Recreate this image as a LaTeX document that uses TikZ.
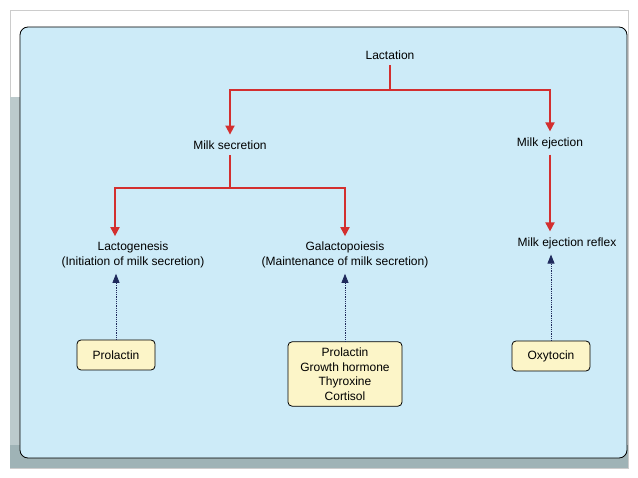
\documentclass[tikz,border=0pt]{standalone}
\usepackage{fontspec}
\setmainfont{Liberation Sans}
\usetikzlibrary{arrows.meta,positioning}
\definecolor{panelblue}{HTML}{CDEBF8}
\definecolor{boxyellow}{HTML}{FCF5C8}
\definecolor{linered}{HTML}{D32F2F}
\definecolor{dashnavy}{HTML}{1F2A5C}
\definecolor{slidegray}{HTML}{9FB3B6}
\tikzset{x=1pt, y=-1pt, font=\fontsize{12}{14.5}\selectfont}
\tikzstyle{term} = [align=center, inner sep=1pt, outer sep=5pt]
\tikzstyle{hormone} = [draw, thick, fill=boxyellow, rounded corners=4pt, align=center, inner sep=6pt, minimum height=30pt]
\tikzstyle{flow} = [linered, line width=1.8pt, -{Triangle[length=9pt,width=9pt]}]
\tikzstyle{acts} = [dashnavy, densely dotted, thick, -{Triangle[length=9pt,width=7pt]}]

\begin{document}
\begin{tikzpicture}
	\useasboundingbox (0,0) rectangle (638,478);
	\draw [gray!40] (10,10) rectangle (628,468);
	\fill [slidegray!70] (10,97) rectangle (20,468);
	\fill [slidegray] (10,445) rectangle (628,468);
	\draw [thick, fill=panelblue, rounded corners=8pt] (20,27) rectangle (627,458);

	\node [term] (lactation) at (390,55) {Lactation};
	\node [term] (secretion) at (230,145) {Milk secretion};
	\node [term] (ejection) at (550,143) {Milk ejection};
	\node [term] (lactogenesis) at (133,255) {Lactogenesis\\(Initiation of milk secretion)};
	\node [term] (galacto) at (345,255) {Galactopoiesis\\(Maintenance of milk secretion)};
	\node [term] (reflex) at (567,243) {Milk ejection reflex};
	\node [hormone, minimum width=78pt] (prolactin) at (116,355) {Prolactin};
	\node [hormone, minimum width=114pt] (hormones) at (345,374) {Prolactin\\Growth hormone\\Thyroxine\\Cortisol};
	\node [hormone, minimum width=78pt] (oxytocin) at (551,356) {Oxytocin};
	\coordinate (split1) at (390,90);
	\coordinate (split2) at (230,188);

	\draw [linered, line width=1.8pt] (lactation) -- (split1);
	\draw [flow] (split1) -| (secretion);
	\draw [flow] (split1) -| (ejection);
	\draw [linered, line width=1.8pt] (secretion) -- (split2);
	\draw [flow] (split2) -| ([xshift=-18pt]lactogenesis.north);
	\draw [flow] (split2) -| (galacto);
	\draw [flow] (ejection) -- ([xshift=-17pt]reflex.north);
	\draw [acts] (prolactin) -- (prolactin |- lactogenesis.south);
	\draw [acts] (hormones) -- (galacto);
	\draw [acts] (oxytocin) -- (oxytocin |- reflex.south);
\end{tikzpicture}
\end{document}
